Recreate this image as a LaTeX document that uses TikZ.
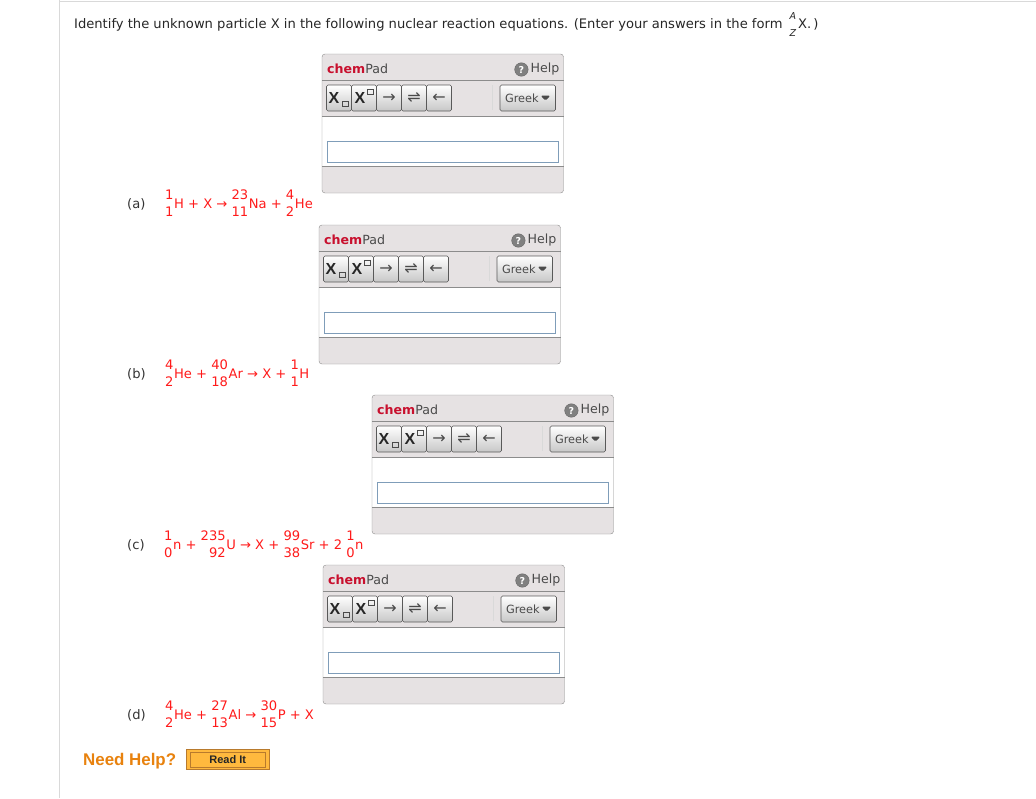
\documentclass[tikz,border=0pt]{standalone}
\usepackage{fontspec}
\setmainfont{DejaVu Sans}
\newfontfamily\arialfont{Liberation Sans}
\usetikzlibrary{positioning,calc}
\definecolor{padgray}{HTML}{E6E2E3}
\definecolor{padline}{HTML}{8C8C8C}
\definecolor{fieldblue}{HTML}{7F9DB9}
\definecolor{chemred}{HTML}{C8102E}
\definecolor{inkgray}{HTML}{4A4A4A}
\definecolor{eqred}{HTML}{FF1A1A}
\definecolor{helporange}{HTML}{E8820E}
\definecolor{readfill}{HTML}{FFB93E}
\definecolor{readline}{HTML}{B87A2D}
\newcommand{\nuc}[2]{\setlength{\tabcolsep}{0pt}\renewcommand{\arraystretch}{1.13}\raisebox{0.7pt}{\begin{tabular}[c]{r}#1\\#2\end{tabular}}\kern0.6pt}
\tikzset{
    titletext/.style = {anchor=base west, inner sep=0pt, font=\fontsize{13.1}{15}\selectfont, text=black!85},
    eqlabel/.style = {anchor=base west, inner sep=0pt, font=\fontsize{13.1}{15}\selectfont, text=black!80},
    eqtext/.style = {anchor=base west, inner sep=0pt, font=\fontsize{13.1}{15}\selectfont, text=eqred},
    toolbtn/.style = {draw=black!65, line width=0.6pt, rounded corners=1.5pt, minimum width=25pt, minimum height=26pt, outer sep=0pt,
        inner sep=0pt, top color=white, bottom color=black!22, text=inkgray},
    fieldbox/.style = {draw=fieldblue, fill=white, minimum width=231.5pt, minimum height=21pt, inner sep=0pt, outer sep=0pt},
    pics/chempad/.style = {
        code = {
            % Panel
            \fill [padgray, rounded corners=3pt] (0,0) rectangle (241.5,139);
            \fill [white] (0,62) rectangle (241.5,112);
            \draw [padline] (0,26) -- (241.5,26);
            \draw [padline] (0,62) -- (241.5,62);
            \draw [padline] (0,112) -- (241.5,112);
            \draw [padline, rounded corners=3pt] (0,0) rectangle (241.5,139);
            % Header
            \node (-title) [anchor=west, inner sep=0pt, font=\fontsize{12.6}{15}\selectfont] at (5,14.5) {\textcolor{chemred}{\textbf{chem}}\textcolor{inkgray}{Pad}};
            \node (-help) [anchor=east, inner sep=0pt, font=\fontsize{12.6}{15}\selectfont, text=inkgray] at (237.5,15.5) {Help};
            \node (-helpicon) [left=2pt of -help, circle, draw=black!60, fill=black!50, minimum size=13.5pt, inner sep=0pt, text=white, font=\bfseries\fontsize{9.5}{9.5}\selectfont] {?};
            % Buttons
            \node (-sub) [toolbtn, anchor=north west] at (4.5,31) {\hspace*{-10pt}\textcolor{black!85}{\fontsize{16}{16}\selectfont\arialfont\bfseries X}};
            \node (-sup) [toolbtn, right=0pt of -sub] {\hspace*{-8pt}\textcolor{black!85}{\fontsize{16}{16}\selectfont\arialfont\bfseries X}};
            \node (-fwd) [toolbtn, right=0pt of -sup, font=\fontsize{16}{16}\selectfont] {→};
            \node (-eq) [toolbtn, right=0pt of -fwd, font=\fontsize{16}{16}\selectfont] {⇌};
            \node (-back) [toolbtn, right=0pt of -eq, font=\fontsize{16}{16}\selectfont] {←};
            \draw [inkgray, line width=1.4pt] ($(-sub.center)+(3.7,3.7)$) rectangle ($(-sub.center)+(9.3,8.7)$);
            \draw [inkgray, line width=1.4pt] ($(-sup.center)+(3.7,-8.7)$) rectangle ($(-sup.center)+(9.3,-3.7)$);
            \draw [black!15] (170,31) -- (170,56);
            \node (-greek) [toolbtn, anchor=north west, minimum width=55.5pt, font=\fontsize{11.3}{13}\selectfont] at (178,31) {Greek\,\raisebox{1.5pt}{\tikz \fill (0,0) -- (10pt,0) -- (5pt,-5pt) -- cycle;}};
            % Field
            \node (-field) [fieldbox, anchor=north west] at (5,87) {};
        }
    }
}
\begin{document}
\begin{tikzpicture}[x=1pt, y=-1pt]
    \useasboundingbox (0,0) rectangle (1036,798);
    % Page edges
    \coordinate (topleft) at (60,1);
    \coordinate (topright) at (1036,1);
    \coordinate (bottomleft) at (59,798);
    \draw [black!15] (topleft) -- (topright);
    \draw [black!15] (59,0) -- (bottomleft);

    % Question
    \node (question) [titletext] at (74,28.5) {Identify the unknown particle X in the following nuclear reaction equations. (Enter your answers in the form\kern3pt\ \nuc{\fontsize{9.5}{11}\selectfont\itshape A}{\fontsize{9.5}{11}\selectfont\itshape Z}\kern1.5ptX.\kern2pt)};

    % Pads
    \pic (pada) at (322,54) {chempad};
    \pic (padb) at (319,225) {chempad};
    \pic (padc) at (372,395) {chempad};
    \pic (padd) at (323,565) {chempad};

    % Equations
    \node (labela) [eqlabel] at (127,208) {(a)};
    \node (eqa) [eqtext] at (165,208) {\nuc{1}{1}H + X → \nuc{23}{11}Na + \nuc{4}{2}He};
    \node (labelb) [eqlabel] at (127,378) {(b)};
    \node (eqb) [eqtext] at (165,378) {\nuc{4}{2}He + \nuc{40}{18}Ar → X + \nuc{1}{1}H};
    \node (labelc) [eqlabel] at (127,549) {(c)};
    \node (eqc) [eqtext] at (164,549) {\nuc{1}{0}n + \nuc{235}{92}U → X + \nuc{99}{38}Sr + 2 \nuc{1}{0}n};
    \node (labeld) [eqlabel] at (127,719) {(d)};
    \node (eqd) [eqtext] at (165,719) {\nuc{4}{2}He + \nuc{27}{13}Al → \nuc{30}{15}P + X};

    % Help line
    \node (needhelp) [anchor=west, inner sep=0pt, text=helporange, font=\arialfont\bfseries\fontsize{16.9}{18}\selectfont] at (83,761) {Need Help?};
    \node (readit) [draw=readline, fill=readfill, line width=1pt, minimum width=82.5pt, minimum height=20.5pt, inner sep=0pt, anchor=west, font=\arialfont\bfseries\fontsize{11}{12}\selectfont, text=black!85] at (186,759.5) {Read It};
    \draw [readline] ($(readit.center)+(-37.5,-7.5)$) rectangle ($(readit.center)+(37.5,7.5)$);
\end{tikzpicture}
\end{document}
